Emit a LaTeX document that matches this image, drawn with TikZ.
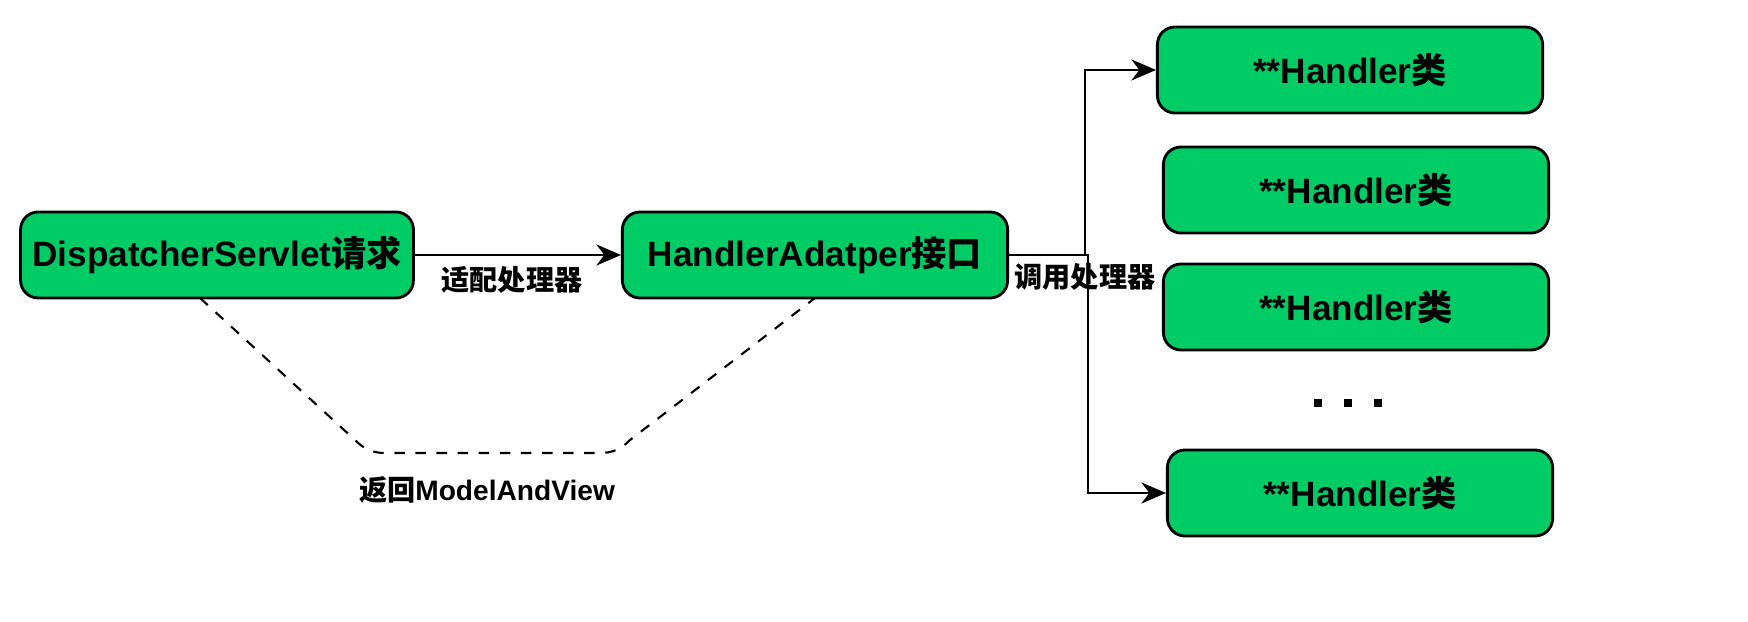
\documentclass[tikz,border=0pt]{standalone}
\usepackage{fontspec}
\setmainfont{Liberation Sans}
\newfontfamily\cjk{Noto Sans CJK SC}
\usetikzlibrary{positioning,arrows.meta}
\newcommand{\zh}[1]{{\cjk\bfseries #1}}
\definecolor{boxgreen}{HTML}{00CC66}
\tikzset{
  box/.style={draw=black,fill=boxgreen,rounded corners=5pt,thick,
    minimum width=3.85cm,minimum height=0.86cm,font=\fontsize{10}{12}\selectfont\bfseries},
  lbl/.style={font=\fontsize{8}{10}\selectfont\bfseries},
  link/.style={semithick,-{Stealth[length=7pt,width=6pt]}}
}
\begin{document}
\begin{tikzpicture}[x=0.01cm,y=-0.01cm]
\useasboundingbox (0,0) rectangle (1748,622);
% main line
\node[box] (disp) at (217,255) {DispatcherServlet\zh{请求}};
\node[box] (adapt) at (815,255) {HandlerAdatper\zh{接口}};
% handlers
\node[box] (h1) at (1350,70) {**Handler\zh{类}};
\node[box] (h2) at (1356,190) {**Handler\zh{类}};
\node[box] (h3) at (1356,307) {**Handler\zh{类}};
\node[box] (h4) at (1360,493) {**Handler\zh{类}};
\foreach \x in {1318,1348,1378}
  \fill (\x,403) +(-4,-4) rectangle +(4,4);

\draw[link] (disp.east) -- (adapt.west);
\node[lbl] (l1) at (512,280) {\zh{适配处理器}};
\draw[link] (adapt.east) -- (1085,255) |- (h1.west);
\draw[link] (adapt.east) -- (1088,255) |- (h4.west);
\node[lbl] (l2) at (1085,277) {\zh{调用处理器}};

% return path
\draw[semithick,dashed] (200,298) -- (355,440) to[out=-45,in=180] (385,453) -- (600,453)
  to[out=0,in=-135] (630,440) -- (815,298);
\node[lbl] (l3) at (487,490) {\zh{返回}ModelAndView};
\end{tikzpicture}
\end{document}
